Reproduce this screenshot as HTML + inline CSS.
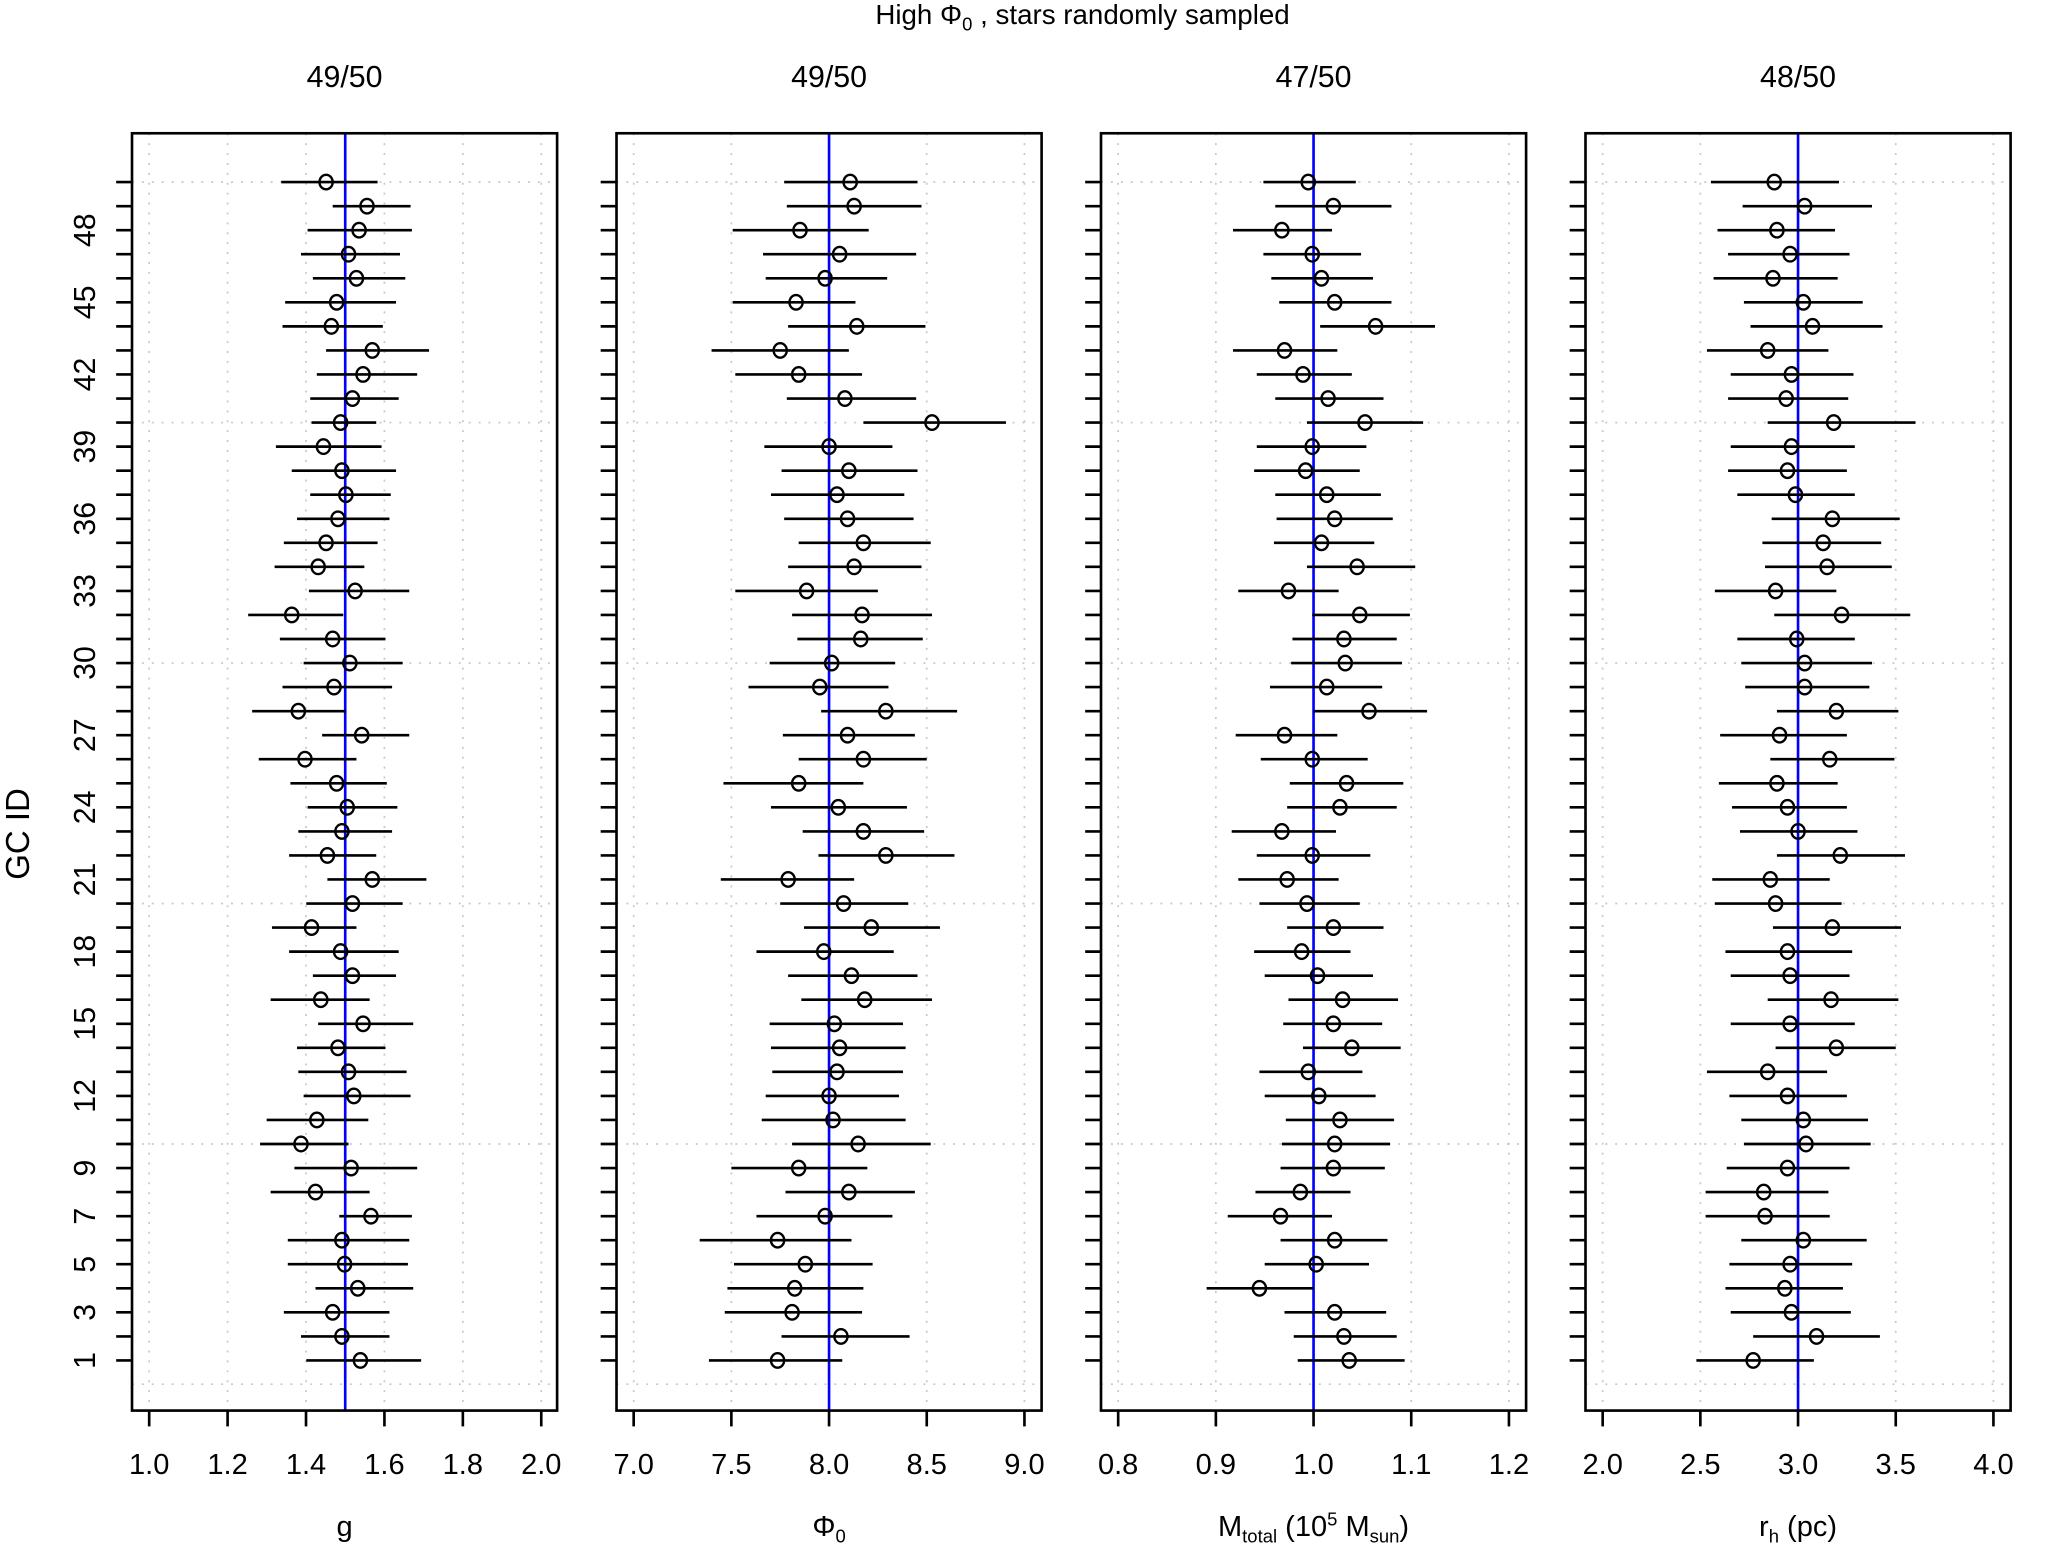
<!DOCTYPE html>
<html><head><meta charset="utf-8"><style>
html,body{margin:0;padding:0;background:#fff;}
svg{display:block;}
text{font-family:"Liberation Sans",sans-serif;fill:#000;}
</style></head><body>
<svg id="s" width="2070" height="1561" viewBox="0 0 1568 1183" preserveAspectRatio="none" xmlns="http://www.w3.org/2000/svg">
<text x="820" y="18" font-size="21" text-anchor="middle">High  Φ<tspan font-size="14" dy="5">0</tspan><tspan dy="-5"> , stars randomly sampled</tspan></text>
<text x="10" y="620" font-size="25" text-anchor="middle" transform="rotate(-90 22 620)">GC ID</text>
<g id="g"></g>
</svg>
<script>
var P=[
{x0:100,x1:422,title:"49/50",ticks:[[113,"1.0"],[172.4,"1.2"],[231.8,"1.4"],[291.2,"1.6"],[350.6,"1.8"],[410,"2.0"]],truth:261.5,
d:[[247,213,286],[278,252,311],[272,233,312],[264,228,303],[270,237,307],[255,216,300],[251,214,290],[282,247,325],[275,240,316],[267,235,302],[258,236,285],[245,209,289],[259,221,300],[262,235,296],[256,225,295],[247,215,286],[241,208,276],[269,234,310],[221,188,260],[252,212,292],[265,230,305],[253,214,297],[226,191,262],[274,244,310],[231,196,270],[255,220,293],[263,233,301],[259,226,297],[248,219,285],[282,248,323],[267,232,305],[236,206,270],[258,219,302],[267,237,300],[243,205,280],[275,241,313],[256,225,292],[264,226,308],[268,230,311],[240,202,279],[228,197,264],[266,223,316],[239,205,280],[281,257,312],[259,218,310],[261,218,309],[271,239,313],[252,215,295],[259,228,295],[273,232,319]]},
{x0:467,x1:789,title:"49/50",ticks:[[480,"7.0"],[554,"7.5"],[628,"8.0"],[702,"8.5"],[776,"9.0"]],truth:628,
d:[[644,594,695],[647,596,698],[606,555,658],[636,578,694],[625,580,672],[603,555,648],[649,597,701],[591,539,643],[605,557,653],[640,596,694],[706,654,762],[628,579,676],[643,592,695],[634,584,685],[642,594,692],[654,605,705],[647,597,698],[611,557,665],[653,600,706],[652,604,699],[630,583,678],[621,567,673],[671,622,725],[642,593,693],[654,605,702],[605,548,654],[635,584,687],[654,608,700],[671,620,723],[597,546,647],[639,591,688],[660,609,712],[624,573,677],[645,597,695],[655,607,706],[632,583,684],[636,584,686],[634,585,684],[628,580,681],[631,577,686],[650,600,705],[605,554,657],[643,595,693],[625,573,676],[589,530,645],[610,556,661],[602,551,654],[600,549,653],[637,592,689],[589,537,638]]},
{x0:834,x1:1156,title:"47/50",ticks:[[847,"0.8"],[921,"0.9"],[995,"1.0"],[1069,"1.1"],[1143,"1.2"]],truth:995,
d:[[991,957,1027],[1010,966,1054],[971,934,1009],[994,957,1031],[1001,963,1040],[1011,969,1054],[1042,1000,1087],[973,934,1013],[987,952,1024],[1006,966,1048],[1034,990,1078],[994,952,1035],[989,950,1030],[1005,966,1046],[1011,967,1055],[1001,965,1041],[1028,990,1072],[976,938,1014],[1030,994,1068],[1018,979,1058],[1019,978,1062],[1005,962,1047],[1037,995,1081],[973,936,1013],[994,955,1036],[1020,977,1063],[1015,975,1058],[971,933,1012],[994,952,1038],[975,938,1014],[990,954,1030],[1010,975,1048],[986,950,1023],[998,958,1040],[1017,976,1059],[1010,972,1047],[1024,987,1061],[991,954,1032],[999,958,1042],[1015,974,1056],[1011,971,1053],[1010,970,1049],[985,951,1023],[970,930,1009],[1011,970,1051],[997,958,1037],[954,914,995],[1011,973,1050],[1018,980,1058],[1022,983,1064]]},
{x0:1201,x1:1523,title:"48/50",ticks:[[1214,"2.0"],[1288,"2.5"],[1362,"3.0"],[1436,"3.5"],[1510,"4.0"]],truth:1362,
d:[[1344,1296,1393],[1367,1320,1418],[1346,1301,1390],[1356,1309,1401],[1343,1298,1392],[1366,1321,1411],[1373,1326,1426],[1339,1293,1385],[1357,1311,1404],[1353,1309,1400],[1389,1339,1451],[1357,1311,1405],[1354,1309,1399],[1360,1316,1405],[1388,1342,1439],[1381,1335,1425],[1384,1337,1433],[1345,1299,1391],[1395,1344,1447],[1361,1316,1405],[1367,1319,1418],[1367,1322,1416],[1391,1346,1438],[1348,1303,1399],[1386,1341,1435],[1346,1302,1392],[1354,1312,1399],[1362,1318,1407],[1394,1346,1443],[1341,1297,1386],[1345,1299,1395],[1388,1343,1440],[1354,1307,1403],[1356,1311,1401],[1387,1339,1438],[1356,1311,1405],[1391,1345,1436],[1339,1293,1384],[1354,1310,1399],[1366,1319,1415],[1368,1321,1417],[1354,1308,1401],[1336,1292,1385],[1337,1292,1386],[1366,1319,1414],[1356,1310,1403],[1352,1307,1396],[1357,1311,1402],[1376,1328,1424],[1328,1285,1374]]}
];
var T=101,B=1069;
function Y(id){return 1031-(id-1)*(893/49);}
var h="";
var xl=['g','Φ<tspan font-size="14" dy="5">0</tspan>','M<tspan font-size="14" dy="5">total</tspan><tspan dy="-5"> (10</tspan><tspan font-size="14" dy="-8">5</tspan><tspan dy="8"> M</tspan><tspan font-size="14" dy="5">sun</tspan><tspan dy="-5">)</tspan>','r<tspan font-size="14" dy="5">h</tspan><tspan dy="-5"> (pc)</tspan>'];
P.forEach(function(p,k){
  var cx=(p.x0+p.x1)/2;
  h+='<text x="'+cx+'" y="66" font-size="23" text-anchor="middle">'+p.title+'</text>';
  p.ticks.forEach(function(t){h+='<line x1="'+t[0]+'" x2="'+t[0]+'" y1="'+T+'" y2="'+B+'" stroke="#c8c8c8" stroke-width="1.3" stroke-dasharray="1.5,6"/>';});
  [0,10,20,30,40,50].forEach(function(i){var y=i==0?1049:Y(i);h+='<line x1="'+p.x0+'" x2="'+p.x1+'" y1="'+y+'" y2="'+y+'" stroke="#c8c8c8" stroke-width="1.3" stroke-dasharray="1.5,6"/>';});
  h+='<line x1="'+p.truth+'" x2="'+p.truth+'" y1="'+T+'" y2="'+B+'" stroke="#0000ff" stroke-width="2"/>';
  p.d.forEach(function(r,j){var id=50-j,y=Y(id);
    h+='<line x1="'+r[1]+'" x2="'+r[2]+'" y1="'+y+'" y2="'+y+'" stroke="#000" stroke-width="2"/>';
    h+='<ellipse cx="'+r[0]+'" cy="'+y+'" rx="5" ry="5.5" fill="none" stroke="#000" stroke-width="1.8"/>';
  });
  h+='<rect x="'+p.x0+'" y="'+T+'" width="'+(p.x1-p.x0)+'" height="'+(B-T)+'" fill="none" stroke="#000" stroke-width="2"/>';
  for(var i=1;i<=50;i++){var y=Y(i);h+='<line x1="'+(p.x0-12)+'" x2="'+p.x0+'" y1="'+y+'" y2="'+y+'" stroke="#000" stroke-width="2"/>';}
  p.ticks.forEach(function(t){h+='<line x1="'+t[0]+'" x2="'+t[0]+'" y1="'+B+'" y2="'+(B+12)+'" stroke="#000" stroke-width="2"/>';
    h+='<text x="'+t[0]+'" y="'+(B+48)+'" font-size="22" text-anchor="middle">'+t[1]+'</text>';});
  h+='<text x="'+cx+'" y="1164" font-size="22" text-anchor="middle">'+xl[k]+'</text>';
});
[1,3,5,7,9,12,15,18,21,24,27,30,33,36,39,42,45,48].forEach(function(i){var y=Y(i);
  h+='<text x="72" y="'+y+'" font-size="23" text-anchor="middle" transform="rotate(-90 72 '+y+')">'+i+'</text>';});
document.getElementById('g').innerHTML=h;
</script>
</body></html>
